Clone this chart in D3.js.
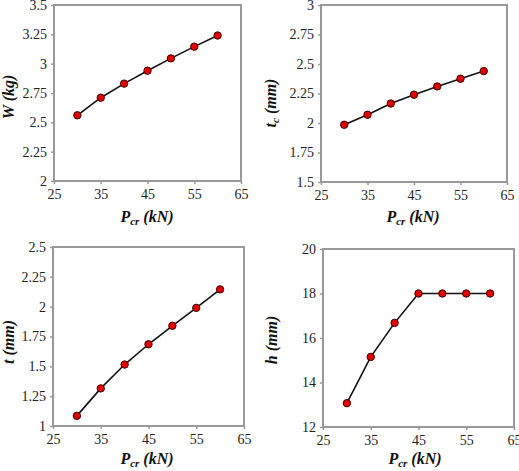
<!DOCTYPE html>
<html><head><meta charset="utf-8">
<script src="https://cdn.jsdelivr.net/npm/d3@7/dist/d3.min.js"></script>
<style>body{margin:0;background:#fff}svg{display:block}</style>
</head><body>
<svg id="c" width="519" height="471"></svg>
<script>
const pcr = [30, 35, 40, 45, 50, 55, 60];
const xTicks = [25, 35, 45, 55, 65];
const wVals = [2.56, 2.71, 2.83, 2.94, 3.045, 3.145, 3.24];
const tcVals = [1.985, 2.07, 2.165, 2.24, 2.31, 2.375, 2.44];
const tVals = [1.085, 1.315, 1.515, 1.685, 1.84, 1.99, 2.145];
const hVals = [13.07, 15.15, 16.68, 18, 18, 18, 18];
const wTicks = [2, 2.25, 2.5, 2.75, 3, 3.25, 3.5];
const tcTicks = [1.5, 1.75, 2, 2.25, 2.5, 2.75, 3];
const tTicks = [1, 1.25, 1.5, 1.75, 2, 2.25, 2.5];
const hTicks = [12, 14, 16, 18, 20];
const yTitles = [["W", " (kg)", ""], ["t", " (mm)", "c"], ["t", " (mm)", ""], ["h", " (mm)", ""]];

const svg = d3.select("#c");
const F = "Liberation Serif";

const panels = [
  {box:[54,241,5,181], vals:wVals, ticks:wTicks, title:yTitles[0], yt:[14,97], xt:[147,222]},
  {box:[321,507,5,182], vals:tcVals, ticks:tcTicks, title:yTitles[1], yt:[276,103], xt:[413,222]},
  {box:[53,244,247,426], vals:tVals, ticks:tTicks, title:yTitles[2], yt:[14,342], xt:[147,464]},
  {box:[323,514,249,427], vals:hVals, ticks:hTicks, title:yTitles[3], yt:[277,340], xt:[415,464]}
];

panels.forEach(p => {
  const [x0,x1,y0,y1] = p.box;
  const x = d3.scaleLinear().domain([25,65]).range([x0,x1]);
  const y = d3.scaleLinear().domain([p.ticks[0], p.ticks[p.ticks.length-1]]).range([y1,y0]);
  const g = svg.append("g").attr("font-family", F);

  const xa = g.append("g").attr("transform",`translate(0,${y1})`)
    .call(d3.axisBottom(x).tickValues(xTicks).tickSize(3).tickPadding(5).tickFormat(d3.format("d")));
  const ya = g.append("g").attr("transform",`translate(${x0},0)`)
    .call(d3.axisLeft(y).tickValues(p.ticks).tickSize(3).tickPadding(4).tickFormat(d => String(+d.toFixed(2))));
  [xa, ya].forEach(a => {
    a.attr("font-family", F).attr("font-size", 14);
    a.select(".domain").remove();
    a.selectAll(".tick line").attr("stroke","#999").attr("stroke-width",1.5);
    a.selectAll(".tick text").attr("font-family", F).attr("fill","#222");
  });

  g.append("rect").attr("x",x0).attr("y",y0).attr("width",x1-x0).attr("height",y1-y0)
    .attr("fill","none").attr("stroke","#999").attr("stroke-width",2);

  const line = d3.line().x((d,i)=>x(pcr[i])).y(d=>y(d));
  g.append("path").datum(p.vals).attr("d",line).attr("fill","none").attr("stroke","#111").attr("stroke-width",1.6);
  g.selectAll("circle").data(p.vals).join("circle")
    .attr("cx",(d,i)=>x(pcr[i])).attr("cy",d=>y(d)).attr("r",3.7)
    .attr("fill","#e00000").attr("stroke","#3a0000").attr("stroke-width",1);

  const xt = g.append("text").attr("x",p.xt[0]).attr("y",p.xt[1]).attr("text-anchor","middle")
    .attr("font-family",F).attr("font-size",16).attr("font-weight","bold").attr("font-style","italic").attr("fill","#111");
  xt.append("tspan").text("P");
  xt.append("tspan").attr("font-size",11).attr("dy",3).text("cr");
  xt.append("tspan").attr("dy",-3).text(" (kN)");

  const yt = g.append("text").attr("transform",`translate(${p.yt[0]},${p.yt[1]}) rotate(-90)`).attr("text-anchor","middle")
    .attr("font-family",F).attr("font-size",16).attr("font-weight","bold").attr("font-style","italic").attr("fill","#111");
  yt.append("tspan").text(p.title[0]);
  if (p.title[2]) {
    yt.append("tspan").attr("font-size",11).attr("dy",3).text(p.title[2]);
    yt.append("tspan").attr("dy",-3).text(p.title[1]);
  } else {
    yt.append("tspan").text(p.title[1]);
  }
});
</script>
</body></html>
